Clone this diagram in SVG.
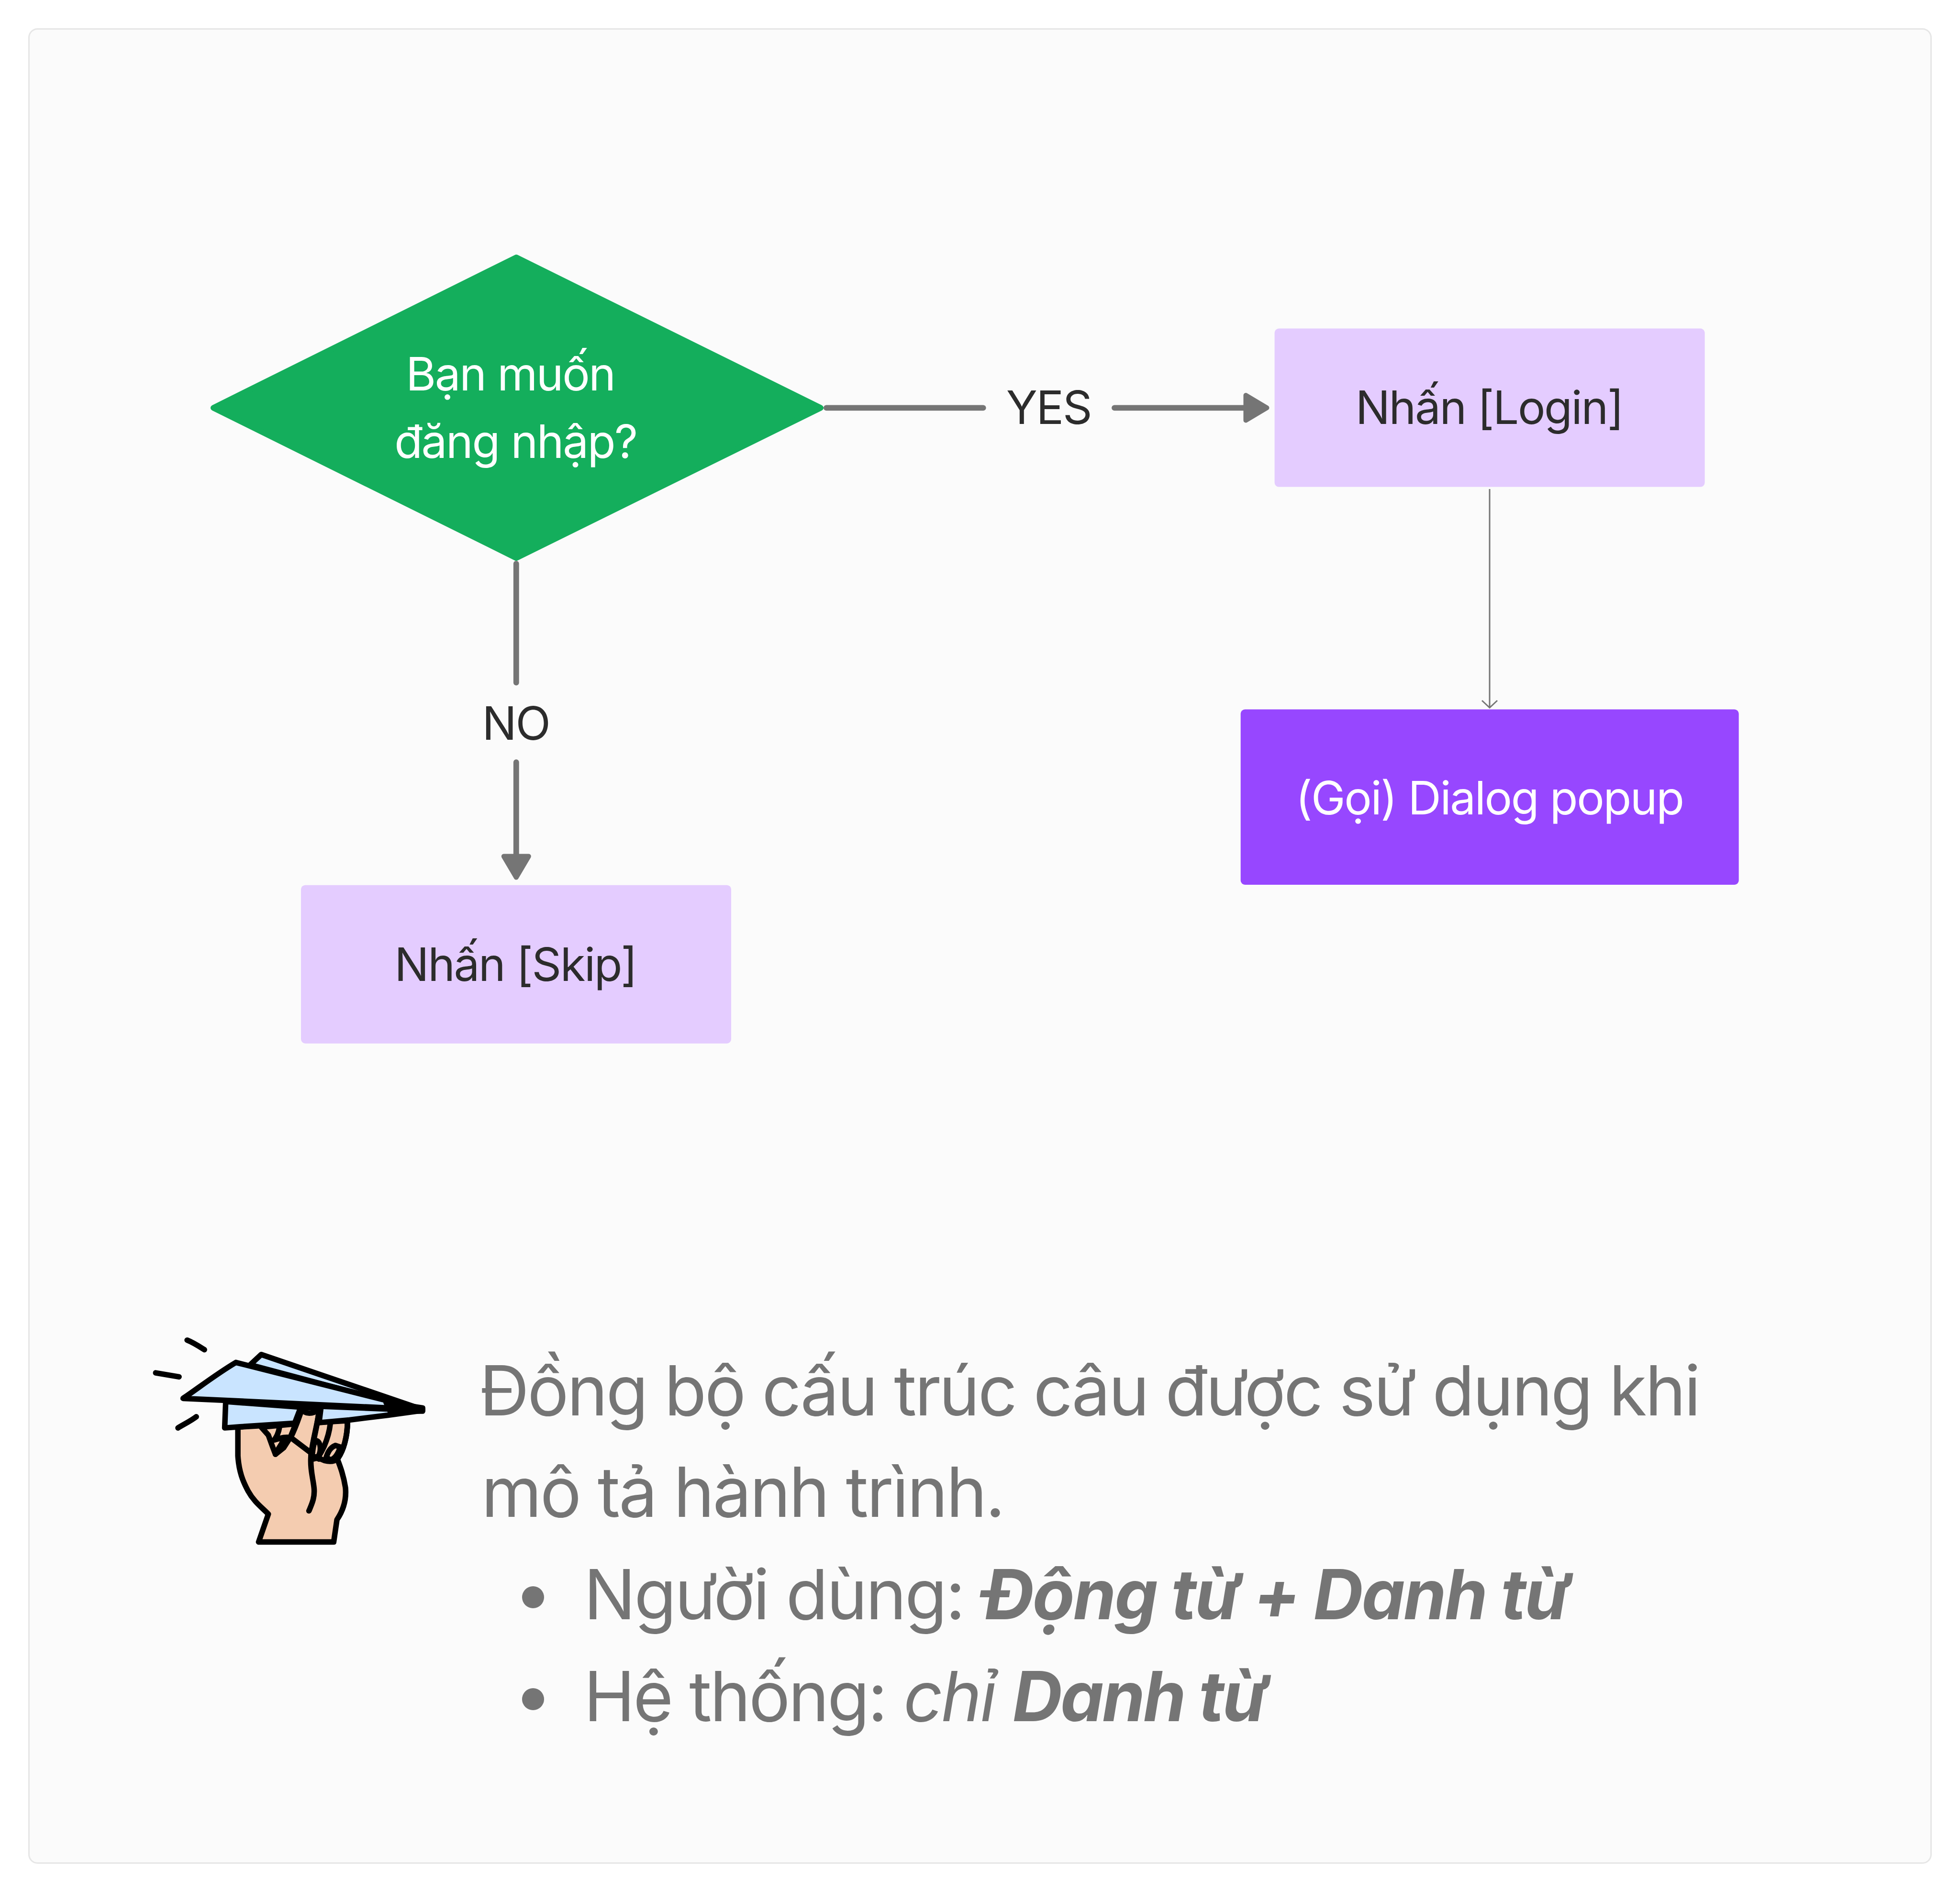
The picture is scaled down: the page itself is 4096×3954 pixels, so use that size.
<svg xmlns="http://www.w3.org/2000/svg" width="4096" height="3954" viewBox="0 0 4096 3954">
<style>
text{font-family:Inter,"Noto Sans",sans-serif}
.l{font-size:144px;fill:#757575;letter-spacing:-3.4px}
.n{font-size:96px;text-anchor:middle;fill:#2c2c2c;letter-spacing:-2.4px}
.w{fill:#fff}
.c{fill:none;stroke:#757575;stroke-width:11.8;stroke-linecap:round}
.ah{fill:#757575;stroke:#757575;stroke-width:10;stroke-linejoin:round}
.ink{stroke:#000;stroke-width:11.5;stroke-linejoin:round;stroke-linecap:round;vector-effect:non-scaling-stroke}
.skin{fill:#f4ccb0}.paper{fill:#c9e4ff}.no{fill:none}
</style>
<rect width="4096" height="3954" fill="#fff"/>
<rect id="panel" x="60.5" y="60.5" width="3975" height="3833" rx="18" fill="#fbfbfb" stroke="#e6e6e6" stroke-width="3"/>
<g id="connectors">
<path class="c" d="M1727 852.3H2054.7"/><path class="c" d="M2329 852.3H2606"/><path class="ah" d="M2603.5 826V878.5L2647.5 852.3Z"/>
<path class="c" d="M1078.8 1178V1426.5"/><path class="c" d="M1078.8 1593V1795"/><path class="ah" d="M1052.8 1789.6H1104.8L1078.8 1833.6Z"/>
<path d="M3113 1022V1478M3097 1464L3113 1479L3129 1464" fill="none" stroke="#757575" stroke-width="3"/>
<text class="n" x="2191.5" y="886">YES</text><text class="n" x="1078" y="1546">NO</text>
</g>
<g id="decision"><path d="M1078.8 538L1715 852.3L1078.8 1166L446 852.3Z" fill="#14ae5c" stroke="#14ae5c" stroke-width="12" stroke-linejoin="round"/><text class="n w" x="1066.5" y="816">Bạn muốn</text><text class="n w" x="1077.5" y="957">đăng nhập?</text></g>
<g id="login"><rect x="2663.6" y="686.6" width="899" height="331" rx="9" fill="#e4ccff"/><text class="n" x="3112" y="886">Nhấn [Login]</text></g>
<g id="dialog"><rect x="2592.7" y="1482.5" width="1041" height="366.5" rx="9" fill="#9747ff"/><text class="n w" x="3112.5" y="1702">(Gọi) Dialog popup</text></g>
<g id="skip"><rect x="629" y="1849.7" width="899" height="331" rx="9" fill="#e4ccff"/><text class="n" x="1077" y="2050">Nhấn [Skip]</text></g>
<g id="plane" transform="translate(280.8,2749) scale(.4242,.3335)">
<path class="ink skin" d="M510 700V880C515 980 535 1040 560 1100C590 1170 630 1205 660 1245L612 1420H982L998 1280C1030 1220 1045 1150 1040 1080C1030 1000 1015 950 1000 900C1030 850 1050 760 1050 660Z"/>
<path class="ink paper" d="M450 540L445 705L520 698L790 675L820 575Z"/>
<path class="ink skin" d="M820 600L795 680L768 765L735 830L695 870L680 820L660 750L625 700L790 680Z"/>
<path class="ink paper" d="M920 570L910 672L1060 655L1250 625L1420 595Z"/>
<path class="ink skin" d="M828 580C815 620 800 690 770 765L910 900L870 880C880 760 905 680 912 575Z"/>
<path class="ink no" d="M830 590C840 620 880 620 905 590M912 575C905 680 880 780 870 880C865 960 880 1020 885 1080C890 1140 875 1180 860 1225"/>
<path class="ink no" d="M715 700C710 740 700 760 690 780C720 770 740 760 768 765M735 780C725 810 705 840 695 870"/>
<path class="ink no" d="M965 680C960 740 945 790 935 820C920 860 910 880 905 885C925 915 975 925 1000 900C1030 850 1050 760 1050 670"/>
<path class="ink skin" d="M895 785C920 790 922 850 905 885L875 890C880 840 880 800 895 785Z"/>
<path class="ink skin" d="M990 815C960 830 950 870 945 890L965 905C990 900 1005 860 1015 825Z"/>
<path class="ink no" d="M880 900L910 890"/>
<path class="ink paper" d="M625 245L570 310L1250 540L1420 590Z"/>
<path class="ink paper" d="M240 520C300 470 400 370 500 295L1420 590Z"/>
<path class="ink" fill="#000" d="M1240 545L1420 580L1420 600L1260 600Z"/>
<path class="ink no" d="M260 155C290 170 320 195 345 215M105 360L220 385M215 705C240 685 280 660 305 635"/>
</g>
<g id="note">
<text class="l" x="1002" y="2958" style="letter-spacing:-3.6px">Đồng bộ cấu trúc câu được sử dụng khi</text>
<text class="l" x="1006" y="3170">mô tả hành trình.</text>
<circle cx="1114" cy="3338" r="23" fill="#757575"/>
<text class="l" x="1220" y="3384" style="letter-spacing:-3.3px">Người dùng: <tspan font-weight="700" font-style="italic">Động từ + Danh từ</tspan></text>
<circle cx="1114" cy="3551" r="23" fill="#757575"/>
<text class="l" x="1220" y="3597" style="letter-spacing:-3.75px">Hệ thống: <tspan font-style="italic">chỉ </tspan><tspan font-weight="700" font-style="italic">Danh từ</tspan></text>
</g>
</svg>
